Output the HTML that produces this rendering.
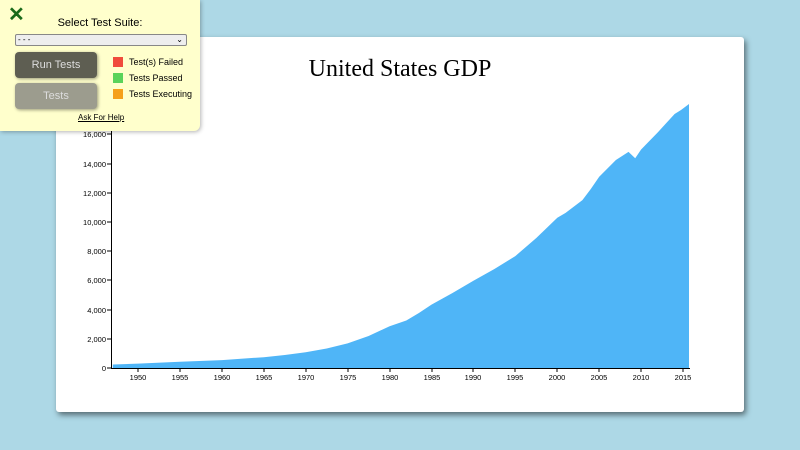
<!DOCTYPE html>
<html><head><style>
body{margin:0;width:800px;height:450px;background:#add8e6;font-family:"Liberation Sans",sans-serif;position:relative;overflow:hidden}
.card{position:absolute;left:56px;top:37px;width:688px;height:375px;background:#fff;border-radius:3px;box-shadow:2px 3px 6px rgba(0,0,0,.5)}
.panel{position:absolute;left:0;top:0;width:200px;height:131px;background:#ffffcc;border-radius:0 0 6px 0;box-shadow:1px 1px 4px rgba(0,0,0,.3);font-size:11px}
.btn{position:absolute;left:15px;width:82px;height:26px;border-radius:4px;color:#ddd;font-size:11px;text-align:center;line-height:26px;box-shadow:1px 1px 3px rgba(0,0,0,.4)}
.sw{position:absolute;left:113px;width:10px;height:10px}
.lb{position:absolute;left:129px;font-size:9px}
</style></head><body>
<div class="card"></div>
<svg width="800" height="450" style="position:absolute;left:0;top:0">
<text x="400" y="76" text-anchor="middle" font-family="Liberation Serif,serif" font-size="24">United States GDP</text>
<polygon fill="#4fb5f7" points="112.8,368 112.8,364.5 138,363.6 179.9,361.8 221.9,360.1 263.8,357.2 284.8,355 305.7,352.3 326.7,348.5 347.6,343.4 368.6,336 389.6,326.3 406.3,320.5 418.9,313 431.5,304.6 452.5,293 473.4,280.7 494.4,269 515.3,256.1 536.3,238 557.3,217.8 565.6,212.9 582.4,200.1 590.8,189 599.2,176.8 615.9,160 628.5,151.9 635.2,158.3 641.1,149.5 657.9,132.2 674.6,114 681,110 689,104 689,368"/>
<g stroke="#000" stroke-width="1">
<line x1="111.5" y1="104" x2="111.5" y2="368"/>
<line x1="111" y1="368.5" x2="690" y2="368.5"/>
</g>
<g font-size="7.5" text-anchor="end" fill="#000">
<text x="106" y="371">0</text><text x="106" y="342">2,000</text><text x="106" y="313">4,000</text><text x="106" y="283">6,000</text><text x="106" y="254">8,000</text><text x="106" y="225">10,000</text><text x="106" y="196">12,000</text><text x="106" y="167">14,000</text><text x="106" y="137">16,000</text>
</g>
<g stroke="#000"><line x1="107" x2="111" y1="368" y2="368"/><line x1="107" x2="111" y1="339" y2="339"/><line x1="107" x2="111" y1="310" y2="310"/><line x1="107" x2="111" y1="280" y2="280"/><line x1="107" x2="111" y1="251" y2="251"/><line x1="107" x2="111" y1="222" y2="222"/><line x1="107" x2="111" y1="193" y2="193"/><line x1="107" x2="111" y1="164" y2="164"/><line x1="107" x2="111" y1="134" y2="134"/>
<line x1="138" x2="138" y1="368" y2="372"/><line x1="180" x2="180" y1="368" y2="372"/><line x1="222" x2="222" y1="368" y2="372"/><line x1="264" x2="264" y1="368" y2="372"/><line x1="306" x2="306" y1="368" y2="372"/><line x1="348" x2="348" y1="368" y2="372"/><line x1="390" x2="390" y1="368" y2="372"/><line x1="432" x2="432" y1="368" y2="372"/><line x1="473" x2="473" y1="368" y2="372"/><line x1="515" x2="515" y1="368" y2="372"/><line x1="557" x2="557" y1="368" y2="372"/><line x1="599" x2="599" y1="368" y2="372"/><line x1="641" x2="641" y1="368" y2="372"/><line x1="683" x2="683" y1="368" y2="372"/></g>
<g font-size="7.5" text-anchor="middle"><text x="138" y="380">1950</text><text x="180" y="380">1955</text><text x="222" y="380">1960</text><text x="264" y="380">1965</text><text x="306" y="380">1970</text><text x="348" y="380">1975</text><text x="390" y="380">1980</text><text x="432" y="380">1985</text><text x="473" y="380">1990</text><text x="515" y="380">1995</text><text x="557" y="380">2000</text><text x="599" y="380">2005</text><text x="641" y="380">2010</text><text x="683" y="380">2015</text></g>
</svg>
<div class="panel">
<div style="position:absolute;left:8px;top:2px;color:#1a6b1a;font-size:20px;font-weight:bold">✕</div>
<div style="position:absolute;left:0;width:200px;top:17px;text-align:center;font-size:11px">Select Test Suite:</div>
<div style="position:absolute;left:15px;top:34px;width:168px;height:10px;background:#eee;border:1px solid #888;border-radius:2px;font-size:8px;line-height:10px;padding-left:2px">- - -<span style="position:absolute;right:3px">⌄</span></div>
<div class="btn" style="top:52px;background:#5e5e52">Run Tests</div>
<div class="btn" style="top:83px;background:#9c9c8e">Tests</div>
<div class="sw" style="top:57px;background:#f04c3c"></div><div class="lb" style="top:57px">Test(s) Failed</div>
<div class="sw" style="top:73px;background:#5ad35a"></div><div class="lb" style="top:73px">Tests Passed</div>
<div class="sw" style="top:89px;background:#f5a01a"></div><div class="lb" style="top:89px">Tests Executing</div>
<div style="position:absolute;left:78px;top:113px;font-size:8px;text-decoration:underline">Ask For Help</div>
</div>
</body></html>
